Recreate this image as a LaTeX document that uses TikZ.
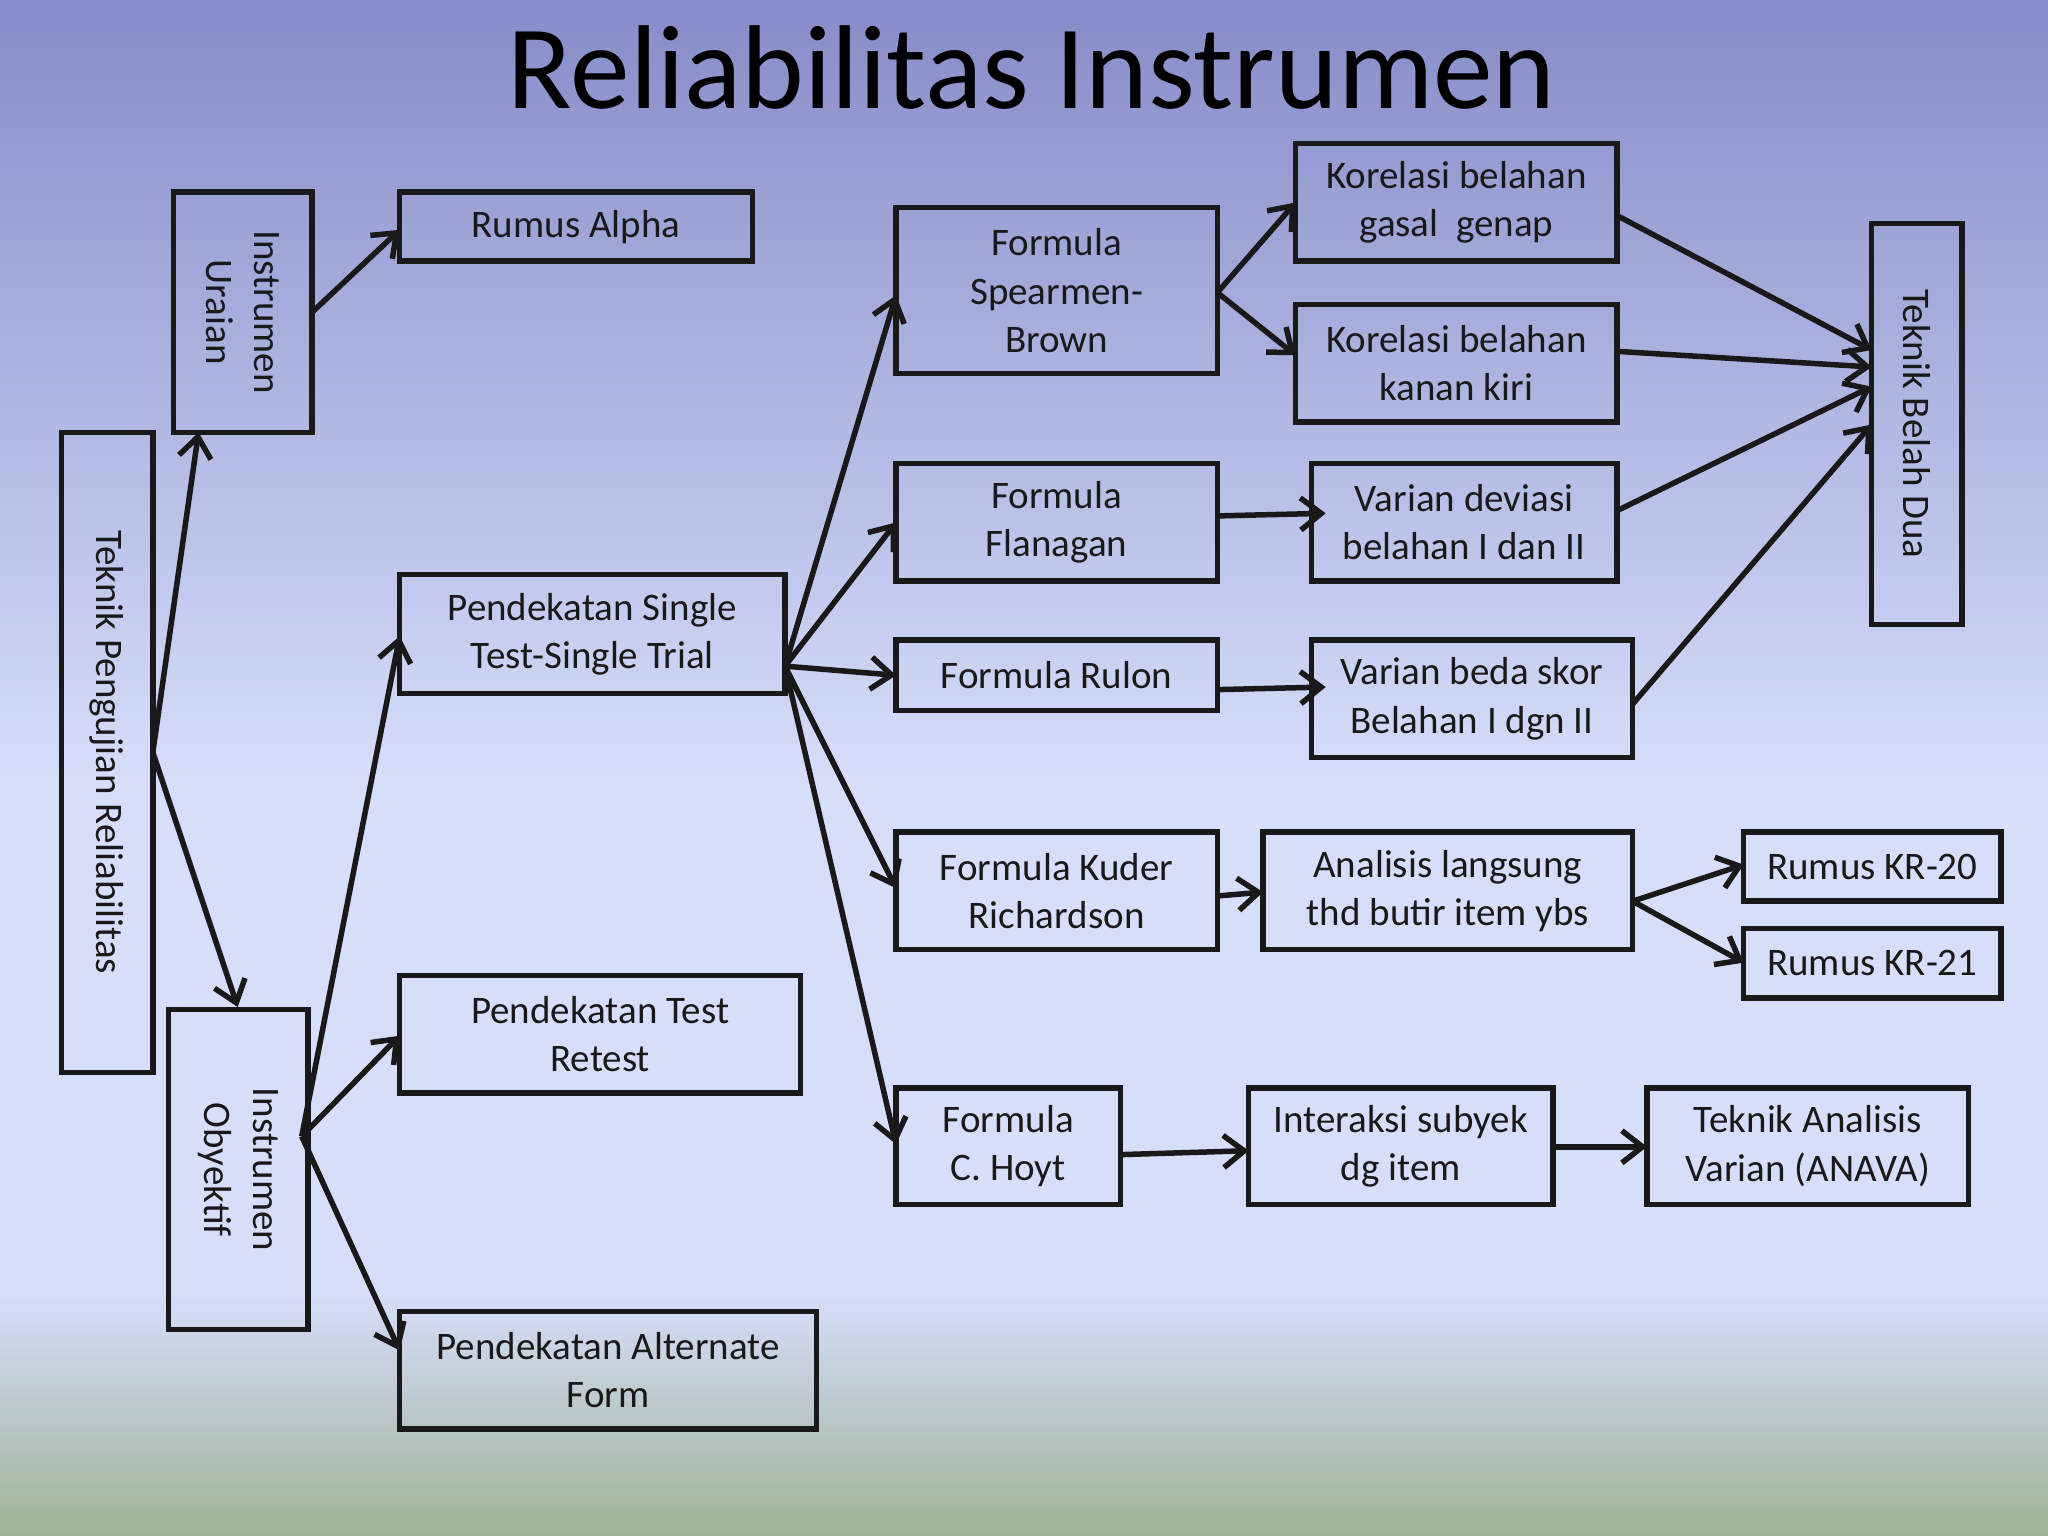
\documentclass[tikz,border=0pt]{standalone}
\usepackage{fontspec}
\setmainfont{Carlito}
\usetikzlibrary{arrows.meta}
\definecolor{bgtop}{RGB}{134,140,200}
\definecolor{bgmid}{RGB}{214,222,250}
\definecolor{bgbot}{RGB}{160,178,150}
\begin{document}
\begin{tikzpicture}[x=0.02cm,y=-0.02cm,
  box/.style={draw=black!90,line width=2.4pt,inner sep=0pt,outer sep=0pt,align=center,font=\fontsize{17}{21}\selectfont,text=black!90},
  ar/.style={line width=2.4pt,draw=black!90,-{Straight Barb[length=9pt,width=14pt,line width=2.4pt]}}]
\newcommand\bx[6]{\node[box,minimum width={(#4-#2)*0.02cm},minimum height={(#5-#3)*0.02cm}] (#1) at ({(#2+#4)/2},{(#3+#5)/2}) {#6};}
\newcommand\rbx[6]{\node[box,rotate=-90,minimum height={(#3-#1)*0.02cm},minimum width={(#4-#2)*0.02cm}] (#5) at ({(#1+#3)/2},{(#2+#4)/2}) {#6};}
\useasboundingbox (0,0) rectangle (1568,1176);
\shade[top color=bgtop,bottom color=bgmid] (0,0) rectangle (1568,600);
\fill[bgmid] (0,599) rectangle (1568,990);
\shade[top color=bgmid,bottom color=bgbot] (0,989) rectangle (1568,1176);
\node[font=\fontsize{52}{60}\selectfont,text=black] (title) at (790,52) {Reliabilitas Instrumen};
\rbx{47}{331}{117}{821}{tek}{Teknik Pengujian Reliabilitas}
\rbx{133}{147}{239}{331}{ur}{Instrumen\\Uraian}
\rbx{129}{773}{236}{1018}{ob}{Instrumen\\Obyektif}
\rbx{1433}{171}{1502}{478}{belah}{Teknik Belah Dua}
\bx{alpha}{306}{147}{576}{200}{Rumus Alpha}
\bx{single}{306}{440}{601}{531}{Pendekatan Single\\Test-Single Trial}
\bx{retest}{306}{747}{613}{837}{Pendekatan Test\\Retest}
\bx{alt}{306}{1004}{625}{1094}{Pendekatan Alternate\\Form}
\bx{spear}{686}{159}{932}{286}{Formula\\Spearmen-\\Brown}
\bx{flan}{686}{355}{932}{445}{Formula\\Flanagan}
\bx{rulon}{686}{490}{932}{544}{Formula Rulon}
\bx{kuder}{686}{637}{932}{727}{Formula Kuder\\Richardson}
\bx{hoyt}{686}{833}{858}{922}{Formula\\C. Hoyt}
\bx{gasal}{992}{110}{1238}{200}{Korelasi belahan\\gasal~ genap}
\bx{kanan}{992}{233}{1238}{323}{Korelasi belahan\\kanan kiri}
\bx{varian}{1004}{355}{1238}{445}{Varian deviasi\\belahan I dan II}
\bx{beda}{1004}{490}{1250}{580}{Varian beda skor\\Belahan I dgn II}
\bx{anal}{967}{637}{1250}{727}{Analisis langsung\\thd butir item ybs}
\bx{inter}{956}{833}{1189}{922}{Interaksi subyek\\dg item}
\bx{anava}{1261}{833}{1507}{922}{Teknik Analisis\\Varian (ANAVA)}
\bx{kr20}{1335}{637}{1532}{690}{Rumus KR-20}
\bx{kr21}{1335}{711}{1532}{764}{Rumus KR-21}
\coordinate (t0) at (117,576);
\coordinate (o0) at (231,870);
\coordinate (s0) at (601,510);
\coordinate (sp0) at (932,224);
\coordinate (an0) at (1250,690);
\draw[ar] (t0) -- (152,331);
\draw[ar] (t0) -- (182,771);
\draw[ar] (239,239) -- (306,176);
\draw[ar] (o0) -- (306,487);
\draw[ar] (o0) -- (306,793);
\draw[ar] (o0) -- (306,1034);
\draw[ar] (s0) -- (686,226);
\draw[ar] (s0) -- (686,400);
\draw[ar] (s0) -- (686,517);
\draw[ar] (s0) -- (686,680);
\draw[ar] (s0) -- (686,876);
\draw[ar] (sp0) -- (992,155);
\draw[ar] (sp0) -- (992,272);
\draw[ar] (932,395) -- (1015,393);
\draw[ar] (932,528) -- (1015,526);
\draw[ar] (932,686) -- (967,683);
\draw[ar] (an0) -- (1335,662);
\draw[ar] (an0) -- (1335,737);
\draw[ar] (858,884) -- (956,881);
\draw[ar] (1189,878) -- (1261,878);
\draw[ar] (1238,165) -- (1433,268);
\draw[ar] (1238,269) -- (1433,281);
\draw[ar] (1238,391) -- (1433,296);
\draw[ar] (1250,539) -- (1433,325);
\end{tikzpicture}
\end{document}
